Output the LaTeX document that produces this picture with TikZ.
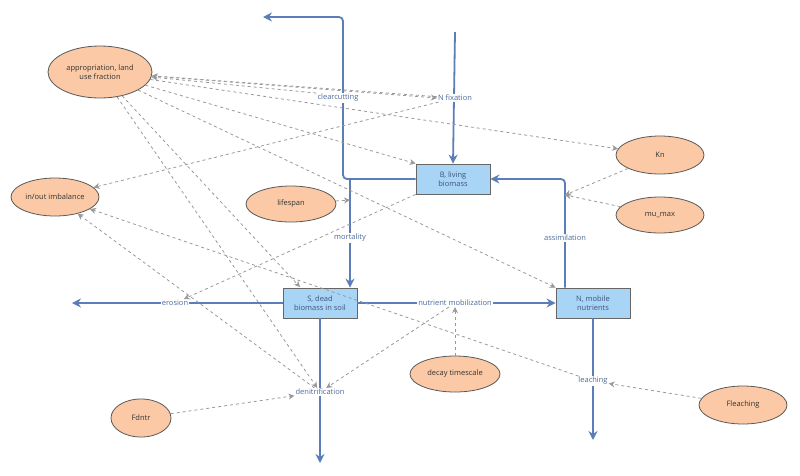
\documentclass[tikz,border=0pt]{standalone}
\usepackage{fontspec}
\setmainfont{Open Sans}
\usetikzlibrary{arrows.meta,shapes.geometric}
\definecolor{flow}{HTML}{5B7DB8}
\definecolor{ell}{HTML}{FBC9A5}
\definecolor{box}{HTML}{A8D4F5}
\definecolor{lab}{HTML}{4F6A9A}
\begin{document}
\begin{tikzpicture}[x=1pt,y=-1pt,font=\fontsize{7.5}{8.5}\selectfont,
 aux/.style={ellipse,draw=black!65,fill=ell,thick,inner sep=0pt,align=center,text=black!80},
 stock/.style={draw=black!60,fill=box,thick,minimum width=74pt,minimum height=30pt,align=center,inner sep=1pt,text=lab!80!black},
 fl/.style={draw=flow,line width=1.8pt,-{Stealth[length=9pt,width=9pt]},rounded corners=4pt},
 fln/.style={draw=flow,line width=1.8pt,rounded corners=4pt},
 lbl/.style={fill=white,inner sep=1pt,text=lab},
 dep/.style={draw=black!40,dashed,thick,-{Stealth[length=6pt,width=6pt]}}]
\path[use as bounding box] (0,0) rectangle (800,475);
\node[stock] (B) at (453,179) {B, living\\biomass};
\node[stock] (S) at (320,303) {S, dead\\biomass in soil};
\node[stock] (N) at (593,303) {N, mobile\\nutrients};
\node[aux,minimum width=104pt,minimum height=52pt] (app) at (100,72) {appropriation, land\\use fraction};
\node[aux,minimum width=88pt,minimum height=38pt] (io) at (55,197) {in/out imbalance};
\node[aux,minimum width=90pt,minimum height=36pt] (life) at (291,204) {lifespan};
\node[aux,minimum width=88pt,minimum height=38pt] (Kn) at (660,155) {Kn};
\node[aux,minimum width=88pt,minimum height=36pt] (mu) at (660,215) {mu\_max};
\node[aux,minimum width=90pt,minimum height=36pt] (dec) at (455,374) {decay timescale};
\node[aux,minimum width=60pt,minimum height=38pt] (Fd) at (141,418) {Fdntr};
\node[aux,minimum width=88pt,minimum height=38pt] (Fl) at (743,405) {Fleaching};
\coordinate (cc) at (263,17);
\coordinate (nfs) at (455,32);
\coordinate (ero) at (72,303);
\coordinate (dn) at (320,463);
\coordinate (le) at (593,440);
% flows
\draw[fl] (B.west) -- (343,179) -- (343,17) -- (cc);
\draw[fl] (nfs) -- (B.north);
\draw[fl] (350,179) -- (S.north-|350,0);
\draw[fl] (N.north-|565,0) -- (565,179) -- (B.east);
\draw[fl] (S.west) -- (ero);
\draw[fl] (S.east) -- (N.west);
\draw[fl] (S.south) -- (dn);
\draw[fl] (N.south) -- (le);
% flow labels
\node[lbl] (lcc) at (338,98) {clearcutting};
\node[lbl] (lnf) at (455,98) {N fixation};
\node[lbl] (lmo) at (350,238) {mortality};
\node[lbl] (las) at (565,238) {assimilation};
\node[lbl] (ler) at (175,303) {erosion};
\node[lbl] (lnm) at (455,303) {nutrient mobilization};
\node[lbl] (ldn) at (320,392) {denitrification};
\node[lbl] (lle) at (593,381) {leaching};
% dependencies
\draw[dep] (lnf) -- (app);
\draw[dep] (lcc.north west) -- (app);
\draw[dep] (app) -- (lnf.west);
\draw[dep] (app) -- (Kn);
\draw[dep] (app) -- (B.north west);
\draw[dep] (app) -- (N.north west);
\draw[dep] (app) -- (300,287);
\draw[dep] (app) -- (ldn);
\draw[dep] (lnf) -- (io);
\draw[dep] (B.south west) -- (ler);
\draw[dep] (life) -- (350,200);
\draw[dep] (Kn) -- (565,195);
\draw[dep] (mu) -- (565,195);
\draw[dep] (lle) -- (io);
\draw[dep] (ldn) -- (io);
\draw[dep] (Fd) -- (ldn);
\draw[dep] (dec) -- (lnm);
\draw[dep] (lnm) -- (ldn);
\draw[dep] (Fl) -- (lle);
\end{tikzpicture}
\end{document}
